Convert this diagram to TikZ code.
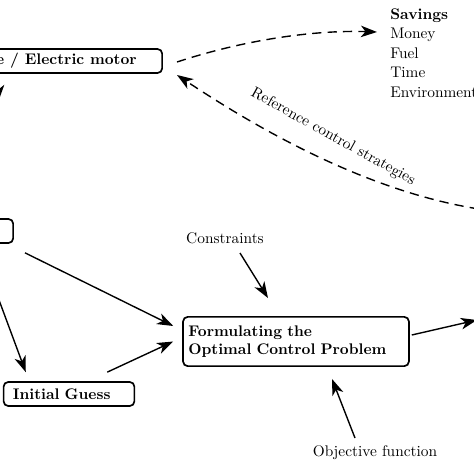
\documentclass[tikz,border=0pt]{standalone}
\usetikzlibrary{arrows.meta}
\begin{document}
\begin{tikzpicture}[x=0.65pt,y=-0.65pt,
  box/.style={draw,line width=1.1pt,rounded corners=3pt,font=\bfseries,minimum height=15.6pt,inner ysep=2pt},
  arr/.style={line width=0.9pt,-{Stealth[length=10.5pt,width=7.5pt,inset=3pt]}},
  darr/.style={arr,dash pattern=on 6pt off 4pt}]
\useasboundingbox (0,0) rectangle (474,474);
\clip (0,0) rectangle (474,474);
% nodes
\node[box,anchor=east,inner xsep=16.5pt] (motor) at (163,61) {Engine / Electric motor};
\node[box,anchor=east,minimum width=80pt] (ul) at (14,231) {};
\node[box,text width=140pt,align=left,inner xsep=3.4pt,minimum height=32pt] (form) at (296,341.5)
  {Formulating the\\Optimal Control Problem};
\node[box,text width=73pt,align=left,inner xsep=6pt] (init) at (69,394) {Initial Guess};
\node[inner sep=0pt] (cons) at (225,238) {Constraints};
\node[inner sep=0pt] (obj) at (375,453) {Objective function};
\node[inner sep=0pt,anchor=north west,align=left] (sav) at (390,8)
  {\textbf{Savings}\\[0.7pt]Money\\[0.7pt]Fuel\\[0.7pt]Time\\[0.7pt]Environment};
\node[rotate=-29] (reflab) at (333,137) {Reference control strategies};
% free ends
\coordinate (m1) at (-1.5,101);
\coordinate (out1) at (477,320);
\coordinate (in1) at (-14,265);
\coordinate (far1) at (540,214);
% connectors
\draw[arr] (motor.south -| m1) -- (m1);
\draw[arr] ([shift={(11,9)}]ul.south east) -- ([shift={(-9,-15.5)}]form.west);
\draw[arr] ([shift={(-28,-9)}]init.north east) -- ([shift={(-9,0)}]form.west);
\draw[arr] ([shift={(15,15)}]cons.center) -- ([shift={(-28,-18)}]form.north);
\draw[arr] ([shift={(-20,-15)}]obj.center) -- ([shift={(36,12)}]form.south);
\draw[arr] ([shift={(2,-6.5)}]form.east) -- (out1);
\draw[arr] (in1) -- ([shift={(23,-9)}]init.north west);
\draw[darr] ([shift={(14,1)}]motor.east) .. controls (250,38) and (320,30) .. ([shift={(-13,24)}]sav.north west);
\draw[darr] (far1) .. controls (400,214) and (260,130) .. ([shift={(14,14)}]motor.east);
\end{tikzpicture}
\end{document}
